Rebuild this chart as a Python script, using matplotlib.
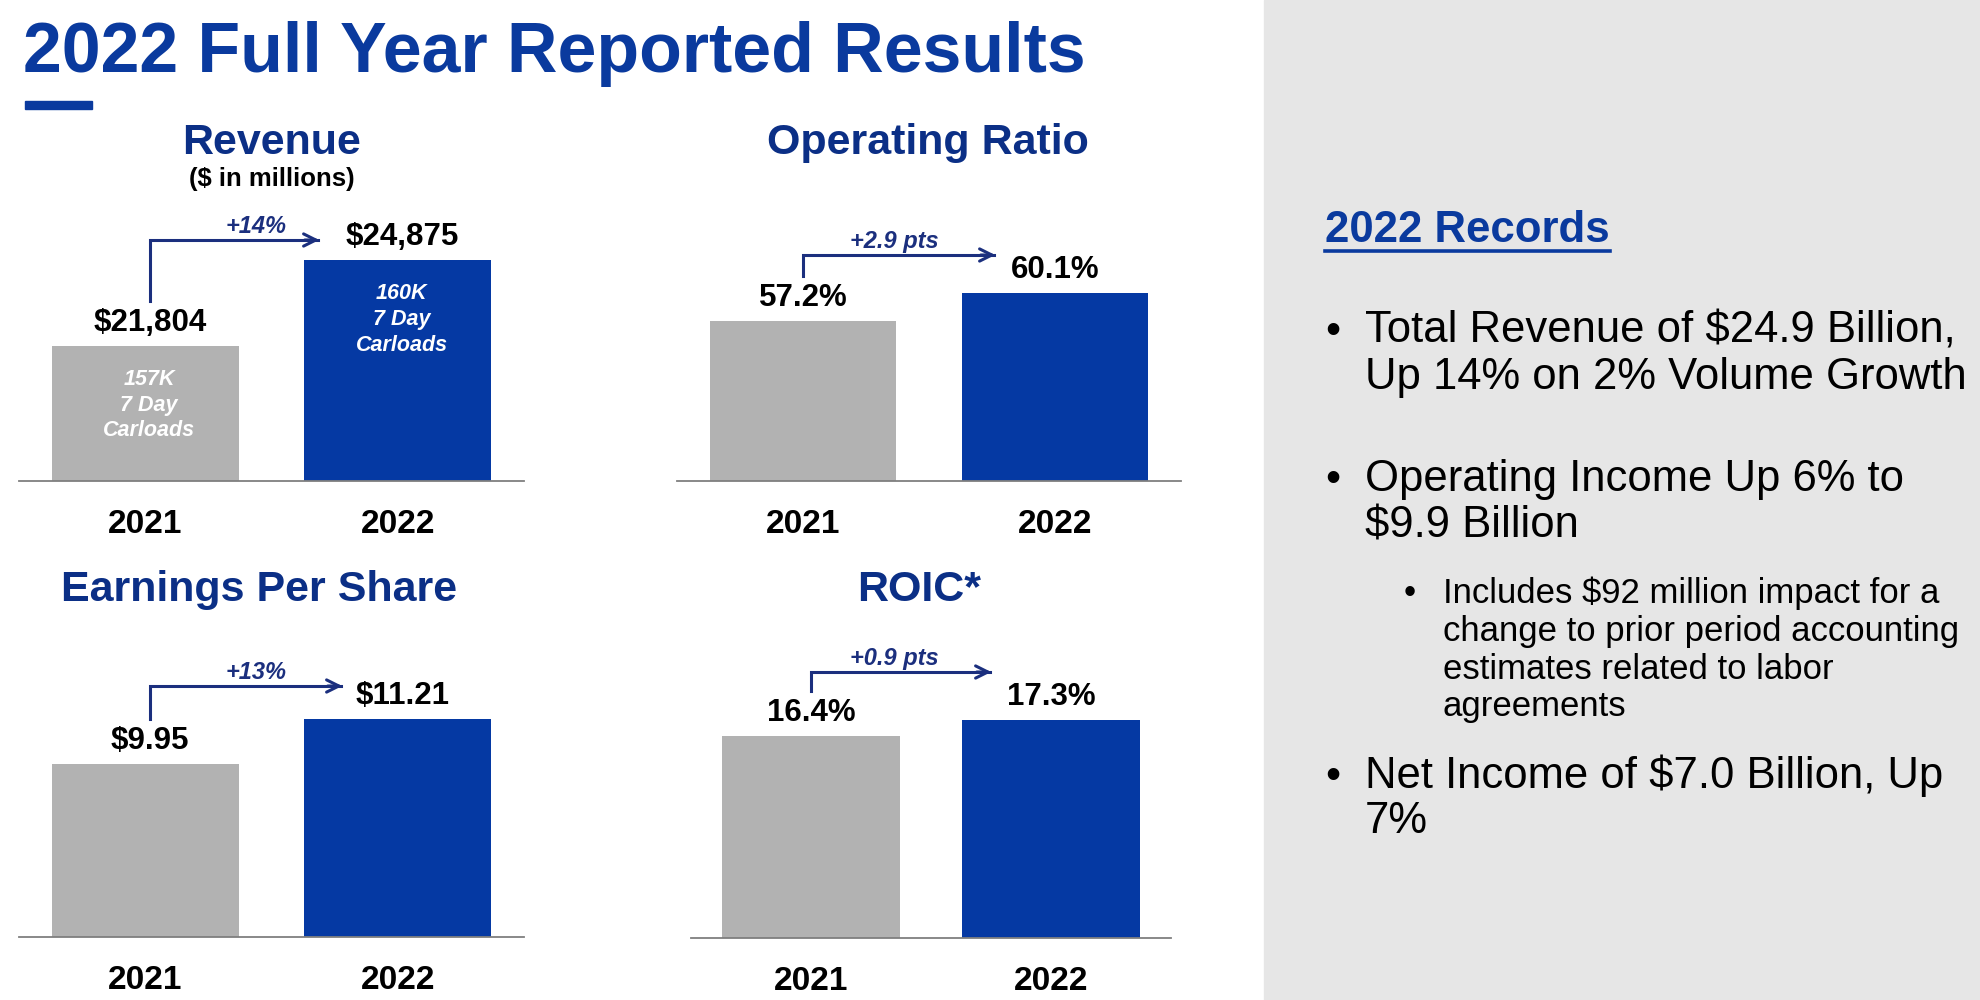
import matplotlib
matplotlib.use('Agg')
import matplotlib.pyplot as plt
from matplotlib.patches import Rectangle

W, H, DPI = 1980, 1000, 100

plt.rcParams['font.family'] = ['Liberation Sans', 'DejaVu Sans']

# ---- data ----
years = ['2021', '2022']
revenue = [21804, 24875]
op_ratio = [57.2, 60.1]
eps = [9.95, 11.21]
roic = [16.4, 17.3]

revenue_labels = ['$21,804', '$24,875']
op_ratio_labels = ['57.2%', '60.1%']
eps_labels = ['$9.95', '$11.21']
roic_labels = ['16.4%', '17.3%']

changes = ['+14%', '+2.9 pts', '+13%', '+0.9 pts']
carloads = ['157K\n7 Day\nCarloads', '160K\n7 Day\nCarloads']

records_title = '2022 Records'
bullets = [
    ['Total Revenue of $24.9 Billion,', 'Up 14% on 2% Volume Growth'],
    ['Operating Income Up 6% to', '$9.9 Billion'],
    ['Net Income of $7.0 Billion, Up', '7%'],
]
sub_bullet = ['Includes $92 million impact for a', 'change to prior period accounting',
              'estimates related to labor', 'agreements']

# ---- colours ----
title_blue = '#0a3a9e'
head_blue = '#0b2f86'
bar_blue = '#0539a3'
bar_grey = '#b2b2b2'
arrow_navy = '#1b2f7e'
panel_grey = '#e6e6e6'

fig = plt.figure(figsize=(W / DPI, H / DPI), dpi=DPI)
fig.patch.set_facecolor('white')

# overlay in pixel coordinates (y measured from top)
ov = fig.add_axes([0, 0, 1, 1], zorder=5)
ov.set_xlim(0, W)
ov.set_ylim(H, 0)
ov.axis('off')
ov.patch.set_alpha(0)

ov.add_patch(Rectangle((1264, 0), W - 1264, H, color=panel_grey, zorder=0))

ov.text(23, 72, '2022 Full Year Reported Results', fontsize=50.3, fontweight='bold',
        color=title_blue, va='baseline', ha='left')
ov.add_patch(Rectangle((25, 101), 67, 8, color=title_blue))

# panel layout in pixels: axis x-extent, baseline, top, value at baseline, px per unit
panels = [
    dict(xr=(19, 524), base=481, top=170, ylo=16971, k=0.02796, title='Revenue', tx=272, ty=154,
         vals=revenue, labels=revenue_labels, change=changes[0], ay=240, ax1=322, cx=256, lx=5),
    dict(xr=(677, 1181), base=481, top=170, ylo=40.5, k=9.58, title='Operating Ratio', tx=928, ty=154,
         vals=op_ratio, labels=op_ratio_labels, change=changes[1], ay=255, ax1=998, cx=894, lx=0),
    dict(xr=(19, 524), base=937, top=620, ylo=5.16, k=36.1, title='Earnings Per Share', tx=259, ty=601,
         vals=eps, labels=eps_labels, change=changes[2], ay=686, ax1=345, cx=256, lx=5),
    dict(xr=(691, 1171), base=938, top=620, ylo=5.3, k=18.2, title='ROIC*', tx=919, ty=601,
         vals=roic, labels=roic_labels, change=changes[3], ay=672, ax1=994, cx=894, lx=0),
]

axes = []
for p in panels:
    x0, x1 = p['xr']
    ax = fig.add_axes([x0 / W, 1 - p['base'] / H, (x1 - x0) / W, (p['base'] - p['top']) / H])
    ax.bar([0, 1], p['vals'], width=0.74, color=[bar_grey, bar_blue], bottom=0)
    ax.set_xlim(-0.5, 1.5)
    ax.set_ylim(p['ylo'], p['ylo'] + (p['base'] - p['top']) / p['k'])
    for s in ['top', 'left', 'right']:
        ax.spines[s].set_visible(False)
    ax.spines['bottom'].set_color('#7f7f7f')
    ax.spines['bottom'].set_linewidth(1.3)
    ax.set_yticks([])
    ax.set_xticks([0, 1])
    ax.set_xticklabels(years, fontsize=24, fontweight='bold')
    ax.tick_params(axis='x', length=0, pad=20)
    ax.patch.set_alpha(0)
    for i, (v, lab) in enumerate(zip(p['vals'], p['labels'])):
        ax.annotate(lab, (i, v), xytext=(p['lx'], 15), textcoords='offset pixels', ha='center',
                    va='baseline', fontsize=22.5, fontweight='bold', color='black',
                    annotation_clip=False)
    ov.text(p['tx'], p['ty'], p['title'], fontsize=31, fontweight='bold', color=head_blue,
            ha='center', va='baseline')
    axes.append((ax, p))

ov.text(272, 186, '($ in millions)', fontsize=18.5, fontweight='bold', color='black',
        ha='center', va='baseline')

# carload notes inside revenue bars
rev_ax = axes[0][0]
for i, (v, txt) in enumerate(zip(revenue, carloads)):
    rev_ax.annotate(txt, (i, v), xytext=(4, -23), textcoords='offset pixels', ha='center',
                    va='top', fontsize=15.5, fontweight='bold', style='italic', color='white',
                    linespacing=1.3)

# change arrows
for ax, p in axes:
    sx, sy = ax.transData.transform((0, p['vals'][0]))
    sx, sy = sx + p['lx'], H - sy
    y0 = sy - 45
    ov.plot([sx, sx, p['ax1'] - 4], [y0, p['ay'], p['ay']], color=arrow_navy, lw=2.2,
            solid_joinstyle='miter')
    ov.annotate('', xy=(p['ax1'], p['ay']), xytext=(p['ax1'] - 20, p['ay']),
                arrowprops=dict(arrowstyle='->', color=arrow_navy, lw=2.2, mutation_scale=22))
    ov.text(p['cx'], p['ay'] - 7, p['change'], fontsize=17, fontweight='bold', style='italic',
            color=arrow_navy, ha='center', va='baseline')

# right-hand records panel
rt = ov.text(1325, 242, records_title, fontsize=31.5, fontweight='bold', color=title_blue,
             ha='left', va='baseline')

bullet_base = [(343, 389), (491, 537), (788, 833)]
for lines, ys in zip(bullets, bullet_base):
    ov.text(1325, ys[0], '\u2022', fontsize=31, ha='left', va='baseline', color='black')
    for line, y in zip(lines, ys):
        ov.text(1365, y, line, fontsize=31.4, ha='left', va='baseline', color='black')

sub_ys = [603, 641, 679, 716]
ov.text(1404, sub_ys[0], '\u2022', fontsize=25, ha='left', va='baseline', color='black')
for line, y in zip(sub_bullet, sub_ys):
    ov.text(1443, y, line, fontsize=25, ha='left', va='baseline', color='black')

fig.canvas.draw()
bb = rt.get_window_extent()
ov.plot([bb.x0, bb.x1], [251, 251], color=title_blue, lw=2.6)

fig.savefig('out.png', dpi=DPI)
